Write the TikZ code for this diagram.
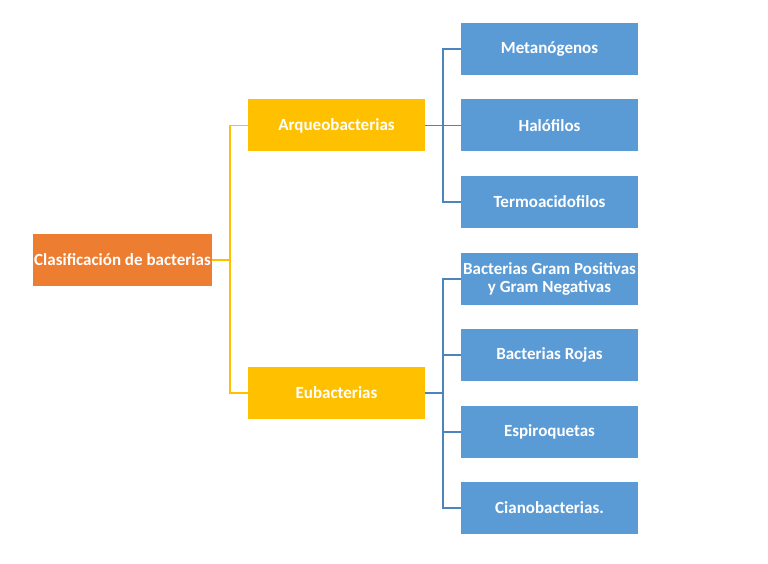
\documentclass[tikz,border=0pt]{standalone}
\usepackage{fontspec}
\setmainfont{Carlito}
\usepackage{xcolor}
\definecolor{rootOrange}{HTML}{ED7D31}
\definecolor{groupGold}{HTML}{FFC000}
\definecolor{leafBlue}{HTML}{5B9BD5}
\definecolor{lineBlue}{HTML}{4A85BF}

\begin{document}
\begin{tikzpicture}[x=1pt, y=-1pt]
% Define styles
\tikzstyle{box}=[rectangle, minimum width=177pt, minimum height=52pt, inner sep=1pt, text centered, align=center, text=white, font=\fontsize{17}{18}\selectfont\bfseries]
\tikzstyle{rootBox}=[box, fill=rootOrange]
\tikzstyle{goldBox}=[box, fill=groupGold]
\tikzstyle{blueBox}=[box, fill=leafBlue]
\tikzstyle{goldLine}=[draw=groupGold, line width=1.8pt]
\tikzstyle{blueLine}=[draw=lineBlue, line width=1.8pt]

\useasboundingbox (0,0) rectangle (768,564);

% Root
\node[rootBox] (root) at (122.5,260) {Clasificación de bacterias};

% Groups
\node[goldBox] (arqueo) at (336.5,125.5) {Arqueobacterias};
\node[goldBox] (eubac) at (336.5,393) {Eubacterias};

% Leaves
\node[blueBox] (meta) at (549.5,49) {Metanógenos};
\node[blueBox] (halo) at (549.5,125.5) {Halófilos};
\node[blueBox] (termo) at (549.5,202) {Termoacidofilos};
\node[blueBox] (gram) at (549.5,279) {Bacterias Gram Positivas\\y Gram Negativas};
\node[blueBox] (rojas) at (549.5,355) {Bacterias Rojas};
\node[blueBox] (espiro) at (549.5,432) {Espiroquetas};
\node[blueBox] (ciano) at (549.5,508) {Cianobacterias.};

% Connectors
\draw[goldLine] (root.east) -- ++(18,0) |- (arqueo.west);
\draw[goldLine] (root.east) -- ++(18,0) |- (eubac.west);

\draw[blueLine] (arqueo.east) -- ++(18,0) |- (meta.west);
\draw[blueLine] (arqueo.east) -- (halo.west);
\draw[blueLine] (arqueo.east) -- ++(18,0) |- (termo.west);

\draw[blueLine] (eubac.east) -- ++(18,0) |- (gram.west);
\draw[blueLine] (eubac.east) -- ++(18,0) |- (rojas.west);
\draw[blueLine] (eubac.east) -- ++(18,0) |- (espiro.west);
\draw[blueLine] (eubac.east) -- ++(18,0) |- (ciano.west);
\end{tikzpicture}
\end{document}
